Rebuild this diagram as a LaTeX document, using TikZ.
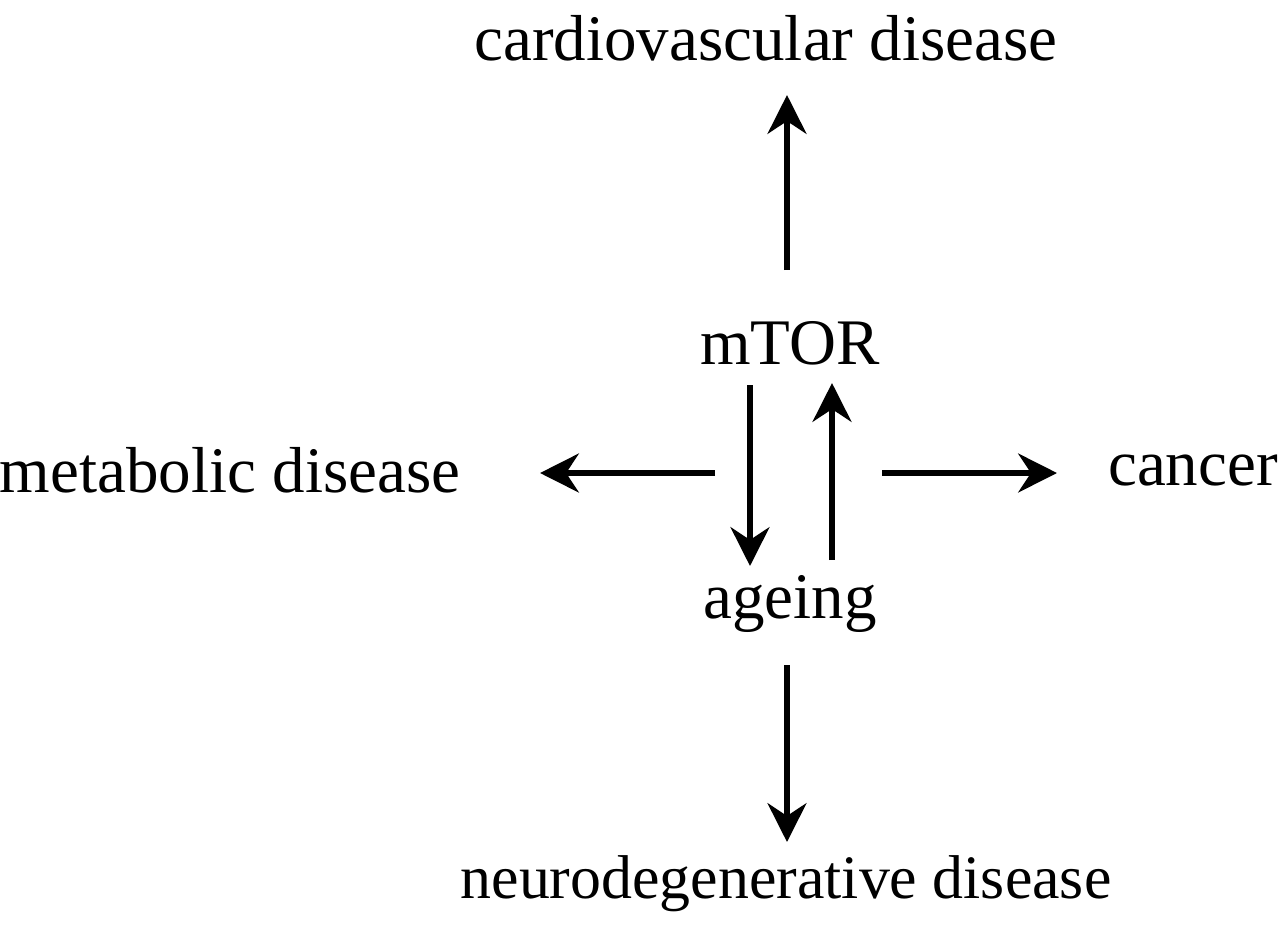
\documentclass[tikz,border=0pt]{standalone}
\usepackage{fontspec}
\setmainfont{Liberation Serif}
\usetikzlibrary{arrows.meta}
\begin{document}
\begin{tikzpicture}[x=0.02cm,y=-0.02cm,
		lbl/.style={font=\fontsize{37}{44}\selectfont, inner sep=0pt},
		arr/.style={line width=3.6pt, -{Stealth[length=22pt,width=22pt]}}]
		% Frame
		\useasboundingbox (0,0) rectangle (1280,924);
		
		% Labels
		\node[lbl] (cardio) at (766,38) {cardiovascular disease};
		\node[lbl] (mtor) at (790,343) {mTOR};
		\node[lbl] (metab) at (230,470) {metabolic disease};
		\node[lbl] (cancer) at (1193,470) {cancer};
		\node[lbl] (ageing) at (790,604) {ageing};
		\node[lbl, font=\fontsize{35.2}{42}\selectfont] (neuro) at (786,884) {neurodegenerative disease};
		
		% Arrow ends
		\coordinate (up_a) at (787,270);
		\coordinate (up_b) at (787,95);
		\coordinate (left_a) at (715,473);
		\coordinate (left_b) at (540,473);
		\coordinate (right_a) at (882,473);
		\coordinate (right_b) at (1057,473);
		\coordinate (down_a) at (750,385);
		\coordinate (down_b) at (750,566);
		\coordinate (back_a) at (832,560);
		\coordinate (back_b) at (832,383);
		\coordinate (bot_a) at (787,665);
		\coordinate (bot_b) at (787,842);
		
		% Arrows
		\draw[arr] (up_a) -- (up_b);
		\draw[arr] (left_a) -- (left_b);
		\draw[arr] (right_a) -- (right_b);
		\draw[arr] (down_a) -- (down_b);
		\draw[arr] (back_a) -- (back_b);
		\draw[arr] (bot_a) -- (bot_b);
	\end{tikzpicture}
\end{document}
